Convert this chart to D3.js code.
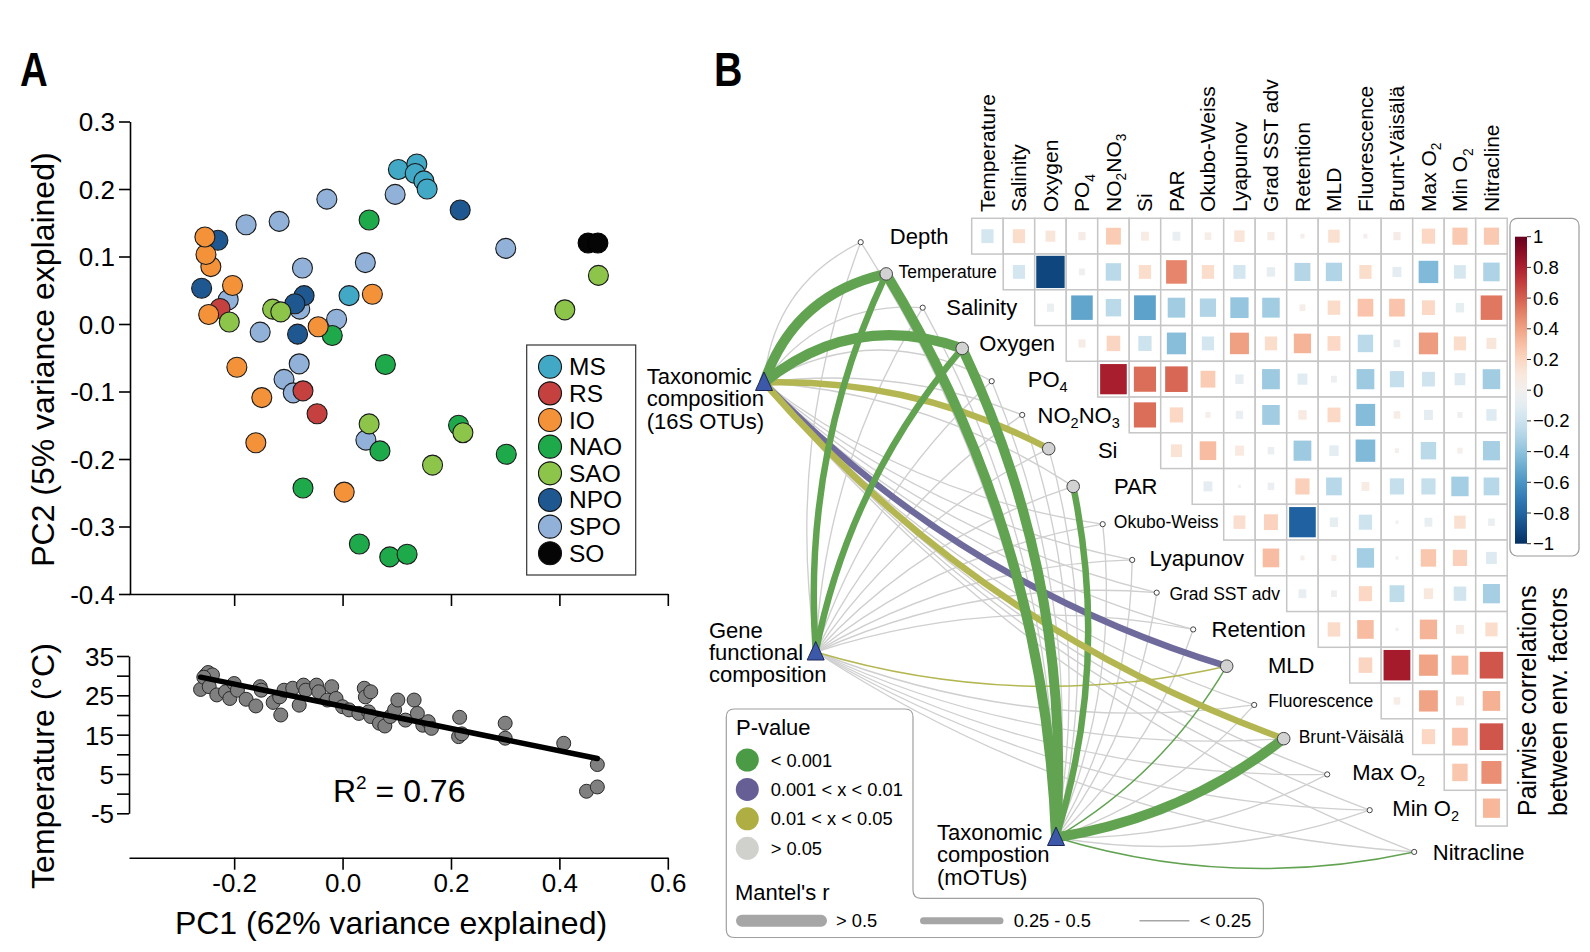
<!DOCTYPE html>
<html><head><meta charset="utf-8">
<script src="https://cdn.jsdelivr.net/npm/d3@7"></script>
<style>
body{margin:0;background:#fff;}
svg{display:block;font-family:"Liberation Sans",Arial,Helvetica,sans-serif;}
</style></head><body>
<script>
// ================= DATA =================
// Panel A (top): PCA coordinates [PC1, PC2] per ocean region
const regions = ["MS","RS","IO","NAO","SAO","NPO","SPO","SO"];
const pcaMS  = [[0.103,0.229],[0.137,0.237],[0.134,0.223],[0.150,0.212],[0.156,0.200],[0.012,0.042]];
const pcaRS  = [[-0.226,0.023],[-0.073,-0.099],[-0.047,-0.133]];
const pcaIO  = [[-0.243,0.085],[-0.252,0.103],[-0.254,0.129],[-0.203,0.057],[-0.247,0.014],[0.055,0.044],[-0.045,-0.004],[-0.195,-0.064],[-0.149,-0.109],[-0.160,-0.176],[0.003,-0.249]];
const pcaNAO = [[0.049,0.154],[-0.019,-0.017],[0.079,-0.060],[0.069,-0.188],[0.214,-0.150],[0.302,-0.193],[-0.073,-0.243],[0.031,-0.326],[0.087,-0.345],[0.119,-0.341]];
const pcaSAO = [[0.472,0.072],[0.410,0.021],[-0.129,0.022],[-0.114,0.018],[-0.209,0.003],[0.049,-0.148],[0.222,-0.161],[0.166,-0.209]];
const pcaNPO = [[0.217,0.169],[-0.230,0.124],[-0.260,0.053],[-0.071,0.042],[-0.088,0.030],[-0.083,-0.015]];
const pcaSPO = [[-0.029,0.185],[-0.117,0.152],[-0.178,0.147],[0.097,0.192],[0.301,0.112],[0.042,0.091],[-0.074,0.083],[-0.211,0.036],[-0.079,0.022],[-0.011,0.007],[-0.152,-0.012],[-0.080,-0.059],[-0.108,-0.082],[-0.091,-0.102],[0.043,-0.172]];
const pcaSO  = [[0.453,0.120],[0.471,0.120]];
const pcaTicksY = [-0.4,-0.3,-0.2,-0.1,0.0,0.1,0.2,0.3];
const pc1Ticks = [-0.2,0.0,0.2,0.4,0.6];

// Panel A (bottom): PC1 vs temperature (°C)
const tempPC1 = [-0.262,-0.252,-0.248,-0.240,-0.256,-0.246,-0.232,-0.216,-0.208,-0.200,-0.194,-0.178,-0.160,-0.152,-0.150,-0.128,-0.116,-0.114,-0.108,-0.092,-0.080,-0.072,-0.068,-0.048,-0.044,-0.028,-0.020,-0.012,0.000,0.012,0.030,0.040,0.042,0.052,0.048,0.052,0.068,0.078,0.088,0.096,0.102,0.116,0.132,0.138,0.148,0.158,0.164,0.216,0.214,0.220,0.300,0.300,0.408,0.470,0.450,0.470];
const tempC   = [26.5,30.2,30.8,30.2,29.6,27.2,25.1,25.9,24.2,28.0,26.3,24.0,22.3,27.2,26.3,23.2,24.6,20.0,26.3,26.8,22.5,27.6,26.3,27.6,25.9,23.8,27.2,24.2,22.1,21.3,20.4,26.8,24.6,25.9,20.8,19.6,17.9,17.2,19.6,21.3,23.8,18.7,23.8,20.4,17.4,18.3,16.6,19.4,14.5,15.2,17.9,14.1,12.8,7.4,0.6,1.7];
const tempTicks = [-5,0,5,10,15,20,25,30,35];
const tempLabelled = [35,25,15,5,-5];
const r2Text = "0.76";

// Panel B: environmental factors
const envFactors = ["Depth","Temperature","Salinity","Oxygen","PO4","NO2NO3","Si","PAR","Okubo-Weiss","Lyapunov","Grad SST adv","Retention","MLD","Fluorescence","Brunt-Väisälä","Max O2","Min O2","Nitracline"];
// Pairwise correlations (upper triangle). Row k = envFactors[k] vs envFactors[k+1 ...]
const corDepth       = [-0.17,0.17,0.11,0.06,0.25,0.07,-0.07,0.05,0.12,0.06,0.02,0.15,0.02,0.06,0.20,0.26,0.26];
const corTemperature = [-0.17,-0.92,-0.04,-0.27,0.17,0.49,0.17,-0.17,-0.08,-0.29,-0.30,0.17,-0.09,-0.44,-0.16,-0.31];
const corSalinity    = [-0.06,-0.53,-0.27,-0.54,-0.35,-0.30,-0.38,-0.35,0.04,0.18,0.28,0.28,0.19,-0.08,0.53];
const corOxygen      = [0.06,0.21,-0.20,-0.42,-0.17,0.41,0.17,0.34,0.19,-0.27,-0.05,0.42,0.17,0.11];
const corPO4         = [0.81,0.56,0.58,0.25,-0.08,-0.36,-0.11,-0.04,-0.36,-0.23,-0.19,-0.13,-0.35];
const corNO2NO3      = [0.56,0.20,0.03,-0.06,-0.35,0.08,0.19,-0.43,0.05,-0.09,-0.03,-0.12];
const corSi          = [0.14,0.31,0.09,-0.05,-0.36,-0.10,-0.44,0.02,-0.27,0.03,-0.33];
const corPAR         = [-0.09,0.01,-0.05,0.23,-0.28,0.07,-0.23,-0.23,-0.34,-0.28];
const corOkubo       = [0.16,0.22,-0.81,-0.08,-0.20,0.01,-0.07,0.15,-0.05];
const corLyapunov    = [0.31,0.02,0.03,-0.34,0.01,0.27,0.23,-0.13];
const corGradSST     = [-0.07,-0.04,0.20,-0.25,0.10,-0.18,-0.33];
const corRetention   = [0.18,0.31,0.01,0.34,0.07,0.17];
const corMLD         = [0.21,0.82,0.40,0.32,0.63];
const corFluor       = [0.05,0.40,0.07,0.35];
const corBrunt       = [0.20,0.28,0.63];
const corMaxO2       = [0.27,0.46];
const corMinO2       = [0.33];
const corRows = [corDepth,corTemperature,corSalinity,corOxygen,corPO4,corNO2NO3,corSi,corPAR,corOkubo,corLyapunov,corGradSST,corRetention,corMLD,corFluor,corBrunt,corMaxO2,corMinO2];
const colorbarTicks = [1,0.8,0.6,0.4,0.2,0,-0.2,-0.4,-0.6,-0.8,-1];

// Mantel tests: community matrices vs each env factor (order = envFactors)
const sources = ["Taxonomic\ncomposition\n(16S OTUs)","Gene\nfunctional\ncomposition","Taxonomic\ncompostion\n(mOTUs)"];
const mantelR_16S  = [0.08,0.62,0.12,0.58,0.06,0.05,0.31,0.14,0.03,0.04,0.02,0.07,0.33,0.09,0.38,0.10,0.08,0.11];
const mantelP_16S  = [0.21,0.0005,0.09,0.0005,0.42,0.50,0.03,0.07,0.70,0.60,0.80,0.35,0.004,0.20,0.02,0.11,0.27,0.09];
const mantelR_gene = [0.05,0.41,0.07,0.38,0.04,0.03,0.12,0.10,0.02,0.03,0.02,0.05,0.17,0.06,0.12,0.07,0.05,0.08];
const mantelP_gene = [0.30,0.0005,0.20,0.0005,0.50,0.60,0.08,0.12,0.80,0.70,0.80,0.40,0.03,0.30,0.07,0.20,0.40,0.15];
const mantelR_motu = [0.06,0.66,0.10,0.61,0.05,0.04,0.13,0.34,0.03,0.04,0.02,0.06,0.19,0.08,0.53,0.09,0.07,0.16];
const mantelP_motu = [0.25,0.0005,0.10,0.0005,0.45,0.55,0.07,0.0008,0.75,0.65,0.85,0.30,0.0009,0.20,0.0005,0.12,0.30,0.0009];
const pLegend = ["< 0.001","0.001 < x < 0.01","0.01 < x < 0.05","> 0.05"];
const rLegend = ["> 0.5","0.25 - 0.5","< 0.25"];

// ================= STYLE / LAYOUT =================
const regionColors = {MS:"#41a8c5",RS:"#c5413f",IO:"#f4923a",NAO:"#1eaa4b",SAO:"#8dc54b",NPO:"#1f5890",SPO:"#91b1d9",SO:"#050505"};
const pLineColors = ["#62a352","#6f6a9c","#b4b751","#cfcfcf"];
const pDotColors  = ["#4b9a46","#655f95","#aeae43","#d0d0cc"];
// horizontal gap between each env node and its heatmap row, and small vertical nudges (layout only)
const envNodeGap = [111,117,112,104,106,107,112,119,121,123,130,125,123,127,129,117,106,93];
const envNodeDy  = [6,2,0,5,2,0,-2,0,2,2,-1,0,1,4,2,2,2,8];

const svg = d3.select("body").append("svg").attr("width",1590).attr("height",952);

function richText(t, label, fs){
  const parts = label.match(/[0-9]+|[^0-9]+/g);
  let shifted=false;
  parts.forEach(p=>{
    const s=t.append("tspan").text(p);
    if(/^[0-9]+$/.test(p)){ s.attr("font-size",fs*0.66).attr("dy",fs*0.25); shifted=true; }
    else if(shifted){ s.attr("dy",-fs*0.25); shifted=false; }
  });
}

// ================= PANEL A =================
svg.append("text").attr("transform","translate(20,86) scale(0.8,1)")
  .attr("font-size",48).attr("font-weight","bold").text("A");

const xA = d3.scaleLinear().domain([-0.394,0.6]).range([129,667.8]);
const yA = d3.scaleLinear().domain([-0.4,0.3]).range([594,121.5]);
const yB = d3.scaleLinear().domain([-5,35]).range([813.3,656]);

function styleAxis(g, fs){
  g.selectAll("path,line").attr("stroke","#000").attr("stroke-width",1.6);
  g.selectAll("text").attr("font-size",fs).attr("fill","#000").attr("font-family","inherit");
}
const gyA = svg.append("g").attr("transform","translate(130,0)")
  .call(d3.axisLeft(yA).tickValues(pcaTicksY).tickSize(11).tickSizeOuter(0).tickPadding(4).tickFormat(v=>v.toFixed(1)));
styleAxis(gyA,26); gyA.selectAll("text").attr("dy","0.36em");
const gxA = svg.append("g").attr("transform","translate(0,594)")
  .call(d3.axisBottom(xA).tickValues(pc1Ticks).tickSize(12).tickSizeOuter(0).tickFormat(""));
styleAxis(gxA,26);

svg.append("text").attr("transform","translate(54,359.6) rotate(-90)").attr("text-anchor","middle")
  .attr("font-size",32).text("PC2 (5% variance explained)");

const allPts=[];
const groups={MS:pcaMS,RS:pcaRS,IO:pcaIO,NAO:pcaNAO,SAO:pcaSAO,NPO:pcaNPO,SPO:pcaSPO,SO:pcaSO};
["SPO","NPO","RS","NAO","SAO","MS","IO","SO"].forEach(k=>groups[k].forEach(d=>allPts.push({k,x:d[0],y:d[1]})));
svg.append("g").selectAll("circle").data(allPts).join("circle")
  .attr("cx",d=>xA(d.x)).attr("cy",d=>yA(d.y)).attr("r",10)
  .attr("fill",d=>regionColors[d.k]).attr("stroke",d=>d.k==="SO"?"#000":"#1a1a1a").attr("stroke-width",1.1);

const lg = svg.append("g");
lg.append("rect").attr("x",526.7).attr("y",345).attr("width",109).attr("height",230).attr("fill","#fff").attr("stroke","#333").attr("stroke-width",1.2);
const legY = d3.scalePoint().domain(regions).range([366.7,553.3]);
lg.selectAll("circle").data(regions).join("circle").attr("cx",550).attr("cy",d=>legY(d)).attr("r",11.5)
  .attr("fill",d=>regionColors[d]).attr("stroke","#111").attr("stroke-width",1.1);
lg.selectAll("text").data(regions).join("text").attr("x",569).attr("y",d=>legY(d)+8.5).attr("font-size",24.5).text(d=>d);

const gyB = svg.append("g").attr("transform","translate(129,0)")
  .call(d3.axisLeft(yB).tickValues(tempTicks).tickSize(12).tickSizeOuter(0).tickPadding(3)
  .tickFormat(v=>tempLabelled.includes(v)?String(v):""));
styleAxis(gyB,26); gyB.selectAll("text").attr("dy","0.36em");
const gxB = svg.append("g").attr("transform","translate(0,857.7)")
  .call(d3.axisBottom(xA).tickValues(pc1Ticks).tickSize(12).tickSizeOuter(0).tickPadding(4).tickFormat(v=>v.toFixed(1)));
styleAxis(gxB,26);

svg.append("text").attr("transform","translate(54,766) rotate(-90)").attr("text-anchor","middle")
  .attr("font-size",32).text("Temperature (°C)");
svg.append("text").attr("x",391).attr("y",934).attr("text-anchor","middle").attr("font-size",32)
  .text("PC1 (62% variance explained)");

const tPts = tempPC1.map((x,i)=>({x,y:tempC[i]}));
svg.append("g").selectAll("circle").data(tPts).join("circle")
  .attr("cx",d=>xA(d.x)).attr("cy",d=>yB(d.y)).attr("r",7)
  .attr("fill","#808080").attr("stroke","#2a2a2a").attr("stroke-width",1);
const mx=d3.mean(tempPC1), my=d3.mean(tempC);
const slope=d3.sum(tPts,d=>(d.x-mx)*(d.y-my))/d3.sum(tPts,d=>(d.x-mx)**2);
const icpt=my-slope*mx;
const xr=d3.extent(tempPC1);
svg.append("path").attr("d",d3.line()(xr.map(x=>[xA(x),yB(icpt+slope*x)])))
  .attr("stroke","#000").attr("stroke-width",5.5).attr("stroke-linecap","round");
const r2 = svg.append("text").attr("x",333).attr("y",802).attr("font-size",32);
r2.append("tspan").text("R");
r2.append("tspan").attr("font-size",19).attr("dy",-13).text("2");
r2.append("tspan").attr("dy",13).text(" = "+r2Text);

// ================= PANEL B =================
svg.append("text").attr("transform","translate(714,86) scale(0.82,1)")
  .attr("font-size",48).attr("font-weight","bold").text("B");

const hmLeft=971.7, colW=31.5, hmTop=218.3, rowH=35.75, nV=17;
const xCol = d3.scaleBand().domain(d3.range(nV+1)).range([hmLeft,hmLeft+(nV+1)*colW]);
const yRow = d3.scaleBand().domain(d3.range(nV+1)).range([hmTop,hmTop+(nV+1)*rowH]);
const colorR = r=>d3.interpolateRdBu((1-r)/2);

const cells=[];
corRows.forEach((row,i)=>row.forEach((r,k)=>cells.push({i,j:i+k,r})));
const hm = svg.append("g");
hm.selectAll("rect.bg").data(cells).join("rect").attr("class","bg")
  .attr("x",d=>xCol(d.j)).attr("y",d=>yRow(d.i)).attr("width",colW).attr("height",rowH)
  .attr("fill","#fff").attr("stroke","#c6c6c6").attr("stroke-width",1.5);
hm.selectAll("rect.sq").data(cells).join("rect").attr("class","sq")
  .each(function(d){
    const f=Math.sqrt(Math.abs(d.r))*0.94;
    const w=f*colW, h=f*rowH;
    d3.select(this).attr("x",xCol(d.j)+(colW-w)/2).attr("y",yRow(d.i)+(rowH-h)/2)
      .attr("width",w).attr("height",h).attr("fill",colorR(d.r));
  });

envFactors.slice(1).forEach((lab,j)=>{
  const t=svg.append("text").attr("transform",`translate(${xCol(j)+colW/2+7.5},212) rotate(-90)`)
    .attr("font-size",21);
  richText(t,lab,21);
});

// colorbar
const cbY = d3.scaleLinear().domain([-1,1]).range([543.7,236.7]);
const defs=svg.append("defs");
const grad=defs.append("linearGradient").attr("id","cbg").attr("x1",0).attr("y1",1).attr("x2",0).attr("y2",0);
d3.range(0,1.0001,0.05).forEach(t=>grad.append("stop").attr("offset",t).attr("stop-color",colorR(-1+2*t)));
svg.append("rect").attr("x",1510).attr("y",218.4).attr("width",69).attr("height",337.6).attr("rx",7)
  .attr("fill","none").attr("stroke","#9a9a9a").attr("stroke-width",1.2);
svg.append("rect").attr("x",1515).attr("y",cbY(1)).attr("width",12).attr("height",cbY(-1)-cbY(1)).attr("fill","url(#cbg)");
const fmt=d3.format("~g");
svg.append("g").selectAll("line").data(colorbarTicks).join("line")
  .attr("x1",1527).attr("x2",1531).attr("y1",d=>cbY(d)).attr("y2",d=>cbY(d)).attr("stroke","#333").attr("stroke-width",1);
svg.append("g").selectAll("text").data(colorbarTicks).join("text")
  .attr("x",1533).attr("y",d=>cbY(d)+6.5).attr("font-size",18.5).text(d=>fmt(d));
svg.append("text").attr("transform","translate(1535.5,816) rotate(-90)").attr("font-size",25).text("Pairwise correlations");
svg.append("text").attr("transform","translate(1567,816) rotate(-90)").attr("font-size",25).text("between env. factors");

// ----- network -----
const srcPos=[[764,382.5],[815.7,652],[1056,837.5]];
const mantelR=[mantelR_16S,mantelR_gene,mantelR_motu];
const mantelP=[mantelP_16S,mantelP_gene,mantelP_motu];
const rowCenter = i=>yRow(i)+rowH/2;
const envPos = envFactors.map((e,i)=>[xCol(i)-envNodeGap[i], rowCenter(i)+envNodeDy[i]]);
const pClass = p=> p<0.001?0 : p<0.01?1 : p<0.05?2 : 3;
const rWidth = (r,pc)=> r>0.5?10 : r>=0.25?6.5 : (pc<3?1.5:1.35);

function bend(si, s, e){
  const ang = Math.atan2(-(e[1]-s[1]), e[0]-s[0])*180/Math.PI;
  if(si===0) return ang>-20 ? {sign:1,k:(ang>0?0.28:0.13)} : {sign:-1,k:0.13};
  if(si===1) return ang>0 ? {sign:1,k:0.13} : {sign:-1,k:0.13};
  return {sign:-1,k:0.13};
}
function curve(s,e,b){
  const dx=e[0]-s[0], dy=e[1]-s[1], L=Math.hypot(dx,dy);
  const nx=dy/L, ny=-dx/L;
  const cx=(s[0]+e[0])/2+b.sign*nx*b.k*L, cy=(s[1]+e[1])/2+b.sign*ny*b.k*L;
  return `M${s[0]},${s[1]}Q${cx},${cy} ${e[0]},${e[1]}`;
}
const edges=[];
sources.forEach((s,si)=>envFactors.forEach((e,ei)=>{
  const r=mantelR[si][ei], p=mantelP[si][ei], pc=pClass(p);
  edges.push({si,ei,r,pc});
}));
edges.sort((a,b)=>(b.pc===3)-(a.pc===3) || a.r-b.r);
svg.append("g").selectAll("path").data(edges).join("path")
  .attr("d",d=>curve(srcPos[d.si],envPos[d.ei],bend(d.si,srcPos[d.si],envPos[d.ei])))
  .attr("fill","none").attr("stroke",d=>pLineColors[d.pc]).attr("stroke-width",d=>rWidth(d.r,d.pc));

const bigNode = envFactors.map((e,ei)=>[0,1,2].some(si=>mantelP[si][ei]<0.05 && mantelR[si][ei]>=0.25));
svg.append("g").selectAll("circle").data(envFactors).join("circle")
  .attr("cx",(d,i)=>envPos[i][0]).attr("cy",(d,i)=>envPos[i][1]).attr("r",(d,i)=>bigNode[i]?6.3:2.6)
  .attr("fill",(d,i)=>bigNode[i]?"#d2d2d2":"#fff").attr("stroke","#444").attr("stroke-width",1);
envFactors.forEach((lab,i)=>{
  const fs = lab.length>10?17.5:22;
  const rowEdge = i<nV ? xCol(i) : xCol(i)+30;
  const cx = (envPos[i][0]+rowEdge)/2+3;
  const ly = i<nV ? rowCenter(i) : envPos[i][1];
  const t=svg.append("text").attr("x",cx).attr("y",ly+fs*0.35).attr("text-anchor","middle").attr("font-size",fs);
  richText(t,lab,fs);
});
svg.append("g").selectAll("path").data(srcPos).join("path")
  .attr("d",d=>`M${d[0]},${d[1]-10.5}L${d[0]+8.5},${d[1]+8}L${d[0]-8.5},${d[1]+8}Z`)
  .attr("fill","#3b58a9").attr("stroke","#1d2757").attr("stroke-width",1);
const srcLab=[[646.7,384],[709,637.5],[937,840]];
sources.forEach((s,si)=>{
  const t=svg.append("text").attr("x",srcLab[si][0]).attr("y",srcLab[si][1]).attr("font-size",22);
  s.split("\n").forEach((line,li)=>t.append("tspan").attr("x",srcLab[si][0]).attr("dy",li?22.3:0).text(line));
});

// ----- legend B -----
const L=726.3,T=709,R1=913,N=898.3,R2=1263.4,B=937.5,rr=8;
svg.append("path").attr("d",`M${L+rr},${T}H${R1-rr}Q${R1},${T} ${R1},${T+rr}V${N-rr}Q${R1},${N} ${R1+rr},${N}H${R2-rr}Q${R2},${N} ${R2},${N+rr}V${B-rr}Q${R2},${B} ${R2-rr},${B}H${L+rr}Q${L},${B} ${L},${B-rr}V${T+rr}Q${L},${T} ${L+rr},${T}Z`)
  .attr("fill","none").attr("stroke","#a0a0a0").attr("stroke-width",1.2);
svg.append("text").attr("x",736).attr("y",734.5).attr("font-size",22).text("P-value");
const pY=d3.scalePoint().domain(pLegend).range([760,848.3]);
svg.append("g").selectAll("circle").data(pLegend).join("circle").attr("cx",747.3).attr("cy",d=>pY(d)).attr("r",11.5)
  .attr("fill",(d,i)=>pDotColors[i]);
svg.append("g").selectAll("text").data(pLegend).join("text").attr("x",770.7).attr("y",d=>pY(d)+6.5).attr("font-size",18.3).text(d=>d);
svg.append("text").attr("x",735).attr("y",899.7).attr("font-size",22).text("Mantel's r");
const rLeg=[{x1:742,x2:821,w:12,tx:836},{x1:923.5,x2:1000,w:7,tx:1013.7},{x1:1139.5,x2:1189.4,w:1.5,tx:1199.8}];
rLegend.forEach((lab,i)=>{
  const o=rLeg[i];
  svg.append("line").attr("x1",o.x1).attr("x2",o.x2).attr("y1",920.7).attr("y2",920.7)
    .attr("stroke","#a6a6a6").attr("stroke-width",o.w).attr("stroke-linecap",i<2?"round":"butt");
  svg.append("text").attr("x",o.tx).attr("y",927).attr("font-size",18.3).text(lab);
});
</script>
</body></html>
